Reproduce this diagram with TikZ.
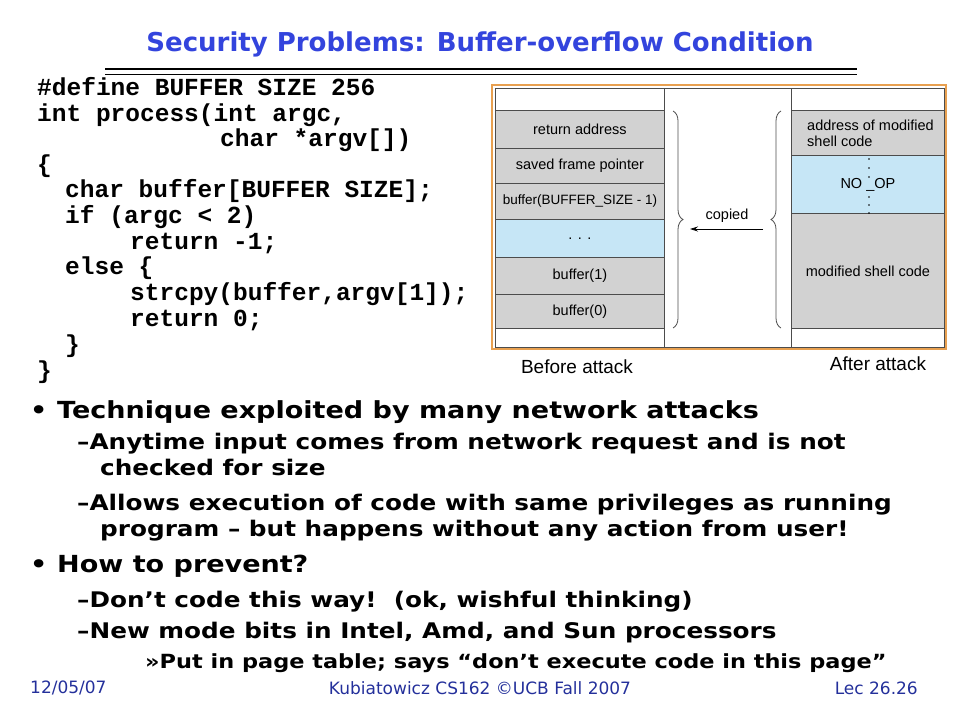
\documentclass[tikz,border=0pt]{standalone}
\usepackage{fontspec}
\setmainfont{DejaVu Sans}
\newfontfamily\wide[FakeStretch=1.15]{DejaVu Sans}
\newfontfamily\arial{Liberation Sans}
\newfontfamily\cour{Liberation Mono}
\usetikzlibrary{decorations.pathreplacing,arrows.meta}
\definecolor{ttl}{HTML}{3344DD}
\definecolor{cellg}{HTML}{D2D2D2}
\definecolor{cellb}{HTML}{C6E6F6}
\definecolor{frm}{HTML}{E8A050}
\begin{document}
\begin{tikzpicture}[x=1pt,y=-1pt,
  code/.style={anchor=base west,inner sep=0,font=\cour\bfseries\fontsize{24.5}{26}\selectfont},
  lbl/.style={font=\arial\fontsize{14.5}{16}\selectfont,inner sep=0},
  cell/.style={draw=black!70,line width=0.8pt},
  bul/.style={anchor=base west,inner sep=0,font=\wide\bfseries\fontsize{23.5}{26}\selectfont},
  sub/.style={anchor=base west,inner sep=0,font=\wide\bfseries\fontsize{21.5}{22}\selectfont},
  foot/.style={inner sep=0,text=ttl!70!black,font=\fontsize{17}{19}\selectfont}]
\useasboundingbox (0,0) rectangle (960,720);
\node[font=\bfseries\fontsize{26}{28}\selectfont,text=ttl] (title) at (480,44) {Security Problems: Buffer-overflow Condition};
\draw[line width=1.6pt] (105,69) -- (857,69);
\draw[line width=0.8pt] (105,74) -- (857,74);
% code
\foreach \t/\x/\y [count=\i] in {{\#define BUFFER SIZE 256}/37/95,{int process(int argc,}/37/121,{char *argv[])}/220/146,{\{}/37/172,{char buffer[BUFFER SIZE];}/65/197,{if (argc < 2)}/65/223,{return -1;}/130/249,{else \{}/65/274,{strcpy(buffer,argv[1]);}/130/300,{return 0;}/130/326,{\}}/65/352,{\}}/37/378}
  \node[code] (c\i) at (\x,\y) {\t};
% diagram
\draw[frm,line width=2pt] (492,85) rectangle (946,349);
\draw[black!70,line width=0.8pt] (495,88) rectangle (944,347);
\draw[black!70] (664,88) -- (664,347) (791,88) -- (791,347);
\node[cell,fill=cellg,minimum width=169,minimum height=38,lbl,anchor=north west] (ra) at (495,110) {return address};
\node[cell,fill=cellg,minimum width=169,minimum height=35,lbl,anchor=north west] (sf) at (495,148) {saved frame pointer};
\node[cell,fill=cellg,minimum width=169,minimum height=36,lbl,font=\arial\fontsize{13.5}{15}\selectfont,anchor=north west] (bs) at (495,183) {buffer(BUFFER\_SIZE - 1)};
\node[cell,fill=cellb,minimum width=169,minimum height=38,lbl,anchor=north west] (dd) at (495,219) {. . .};
\node[cell,fill=cellg,minimum width=169,minimum height=37,lbl,anchor=north west] (b1) at (495,257) {buffer(1)};
\node[cell,fill=cellg,minimum width=169,minimum height=34,lbl,anchor=north west] (b0) at (495,294) {buffer(0)};
\node[cell,fill=cellg,minimum width=153,minimum height=45,anchor=north west] (am) at (791,110) {};
\node[lbl,align=left,anchor=west] (amt) at (807,133) {address of modified\\shell code};
\node[cell,fill=cellb,minimum width=153,minimum height=58,lbl,anchor=north west] (nop) at (791,155) {NO \_OP};
\node[cell,fill=cellg,minimum width=153,minimum height=115,lbl,anchor=north west] (ms) at (791,213) {modified shell code};
\foreach \yy in {159,168,177,197,205,213} \fill (869,\yy) circle (0.8);
\coordinate (lb1) at (673,111); \coordinate (lb2) at (673,328);
\draw[black!70,line width=0.8pt,decorate,decoration={brace,amplitude=10pt}] (lb1) -- (lb2);
\coordinate (rb1) at (781,328); \coordinate (rb2) at (781,111);
\draw[black!70,line width=0.8pt,decorate,decoration={brace,amplitude=10pt}] (rb1) -- (rb2);
\coordinate (a1) at (763,229); \coordinate (a2) at (690,229);
\draw[-{Stealth[length=8pt,width=5pt]},line width=0.8pt] (a1) -- (a2);
\node[lbl] (cp) at (727,216) {copied};
\node[font=\arial\fontsize{19}{21}\selectfont,inner sep=0] (ba) at (577,367) {Before attack};
\node[font=\arial\fontsize{19}{21}\selectfont,inner sep=0] (aa) at (878,364) {After attack};
% bullets
\node[bul] (t1) at (30,418) {•};
\node[bul] (t1t) at (57,418) {Technique exploited by many network attacks};
\node[sub] (s1) at (77,449) {–Anytime input comes from network request and is not};
\node[sub] (s1b) at (100,475) {checked for size};
\node[sub] (s2) at (77,510) {–Allows execution of code with same privileges as running};
\node[sub] (s2b) at (100,536) {program – but happens without any action from user!};
\node[bul] (t2) at (30,572) {•};
\node[bul] (t2t) at (57,572) {How to prevent?};
\node[sub] (s3) at (77,607) {–Don’t code this way!\ \ (ok, wishful thinking)};
\node[sub] (s4) at (77,638) {–New mode bits in Intel, Amd, and Sun processors};
\node[sub,font=\wide\bfseries\fontsize{19.5}{20}\selectfont] (s5) at (145,668) {»Put in page table; says “don’t execute code in this page”};
\node[foot,anchor=west] (f1) at (30,688) {12/05/07};
\node[foot] (f2) at (480,688) {Kubiatowicz CS162 ©UCB Fall 2007};
\node[foot,anchor=east] (f3) at (918,688) {Lec 26.26};
\end{tikzpicture}
\end{document}
